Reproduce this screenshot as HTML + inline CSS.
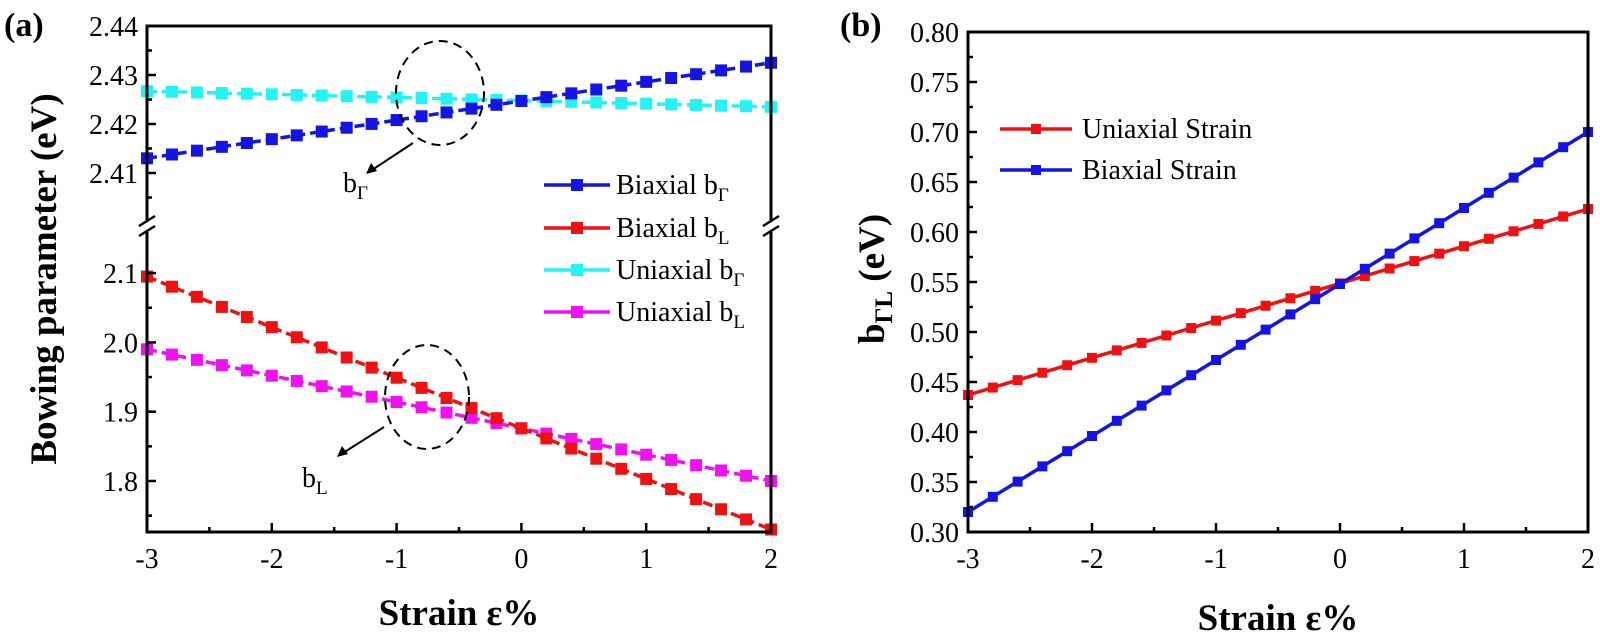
<!DOCTYPE html>
<html><head><meta charset="utf-8"><style>
html,body{margin:0;padding:0;background:#fff;}
svg{display:block;}
svg text{font-family:"Liberation Serif","DejaVu Serif",serif;}
</style></head><body>
<svg id="s" width="1600" height="639" viewBox="0 0 1600 639" xmlns="http://www.w3.org/2000/svg" font-family="'Liberation Serif', 'DejaVu Serif', serif">
<rect width="1600" height="639" fill="#fff"/>
<text x="4" y="36" font-size="34" font-weight="bold">(a)</text>
<text x="840" y="36" font-size="34" font-weight="bold">(b)</text>
<text transform="translate(56,279) rotate(-90)" text-anchor="middle" font-size="37" font-weight="bold">Bowing parameter (eV)</text>
<text x="459" y="625" text-anchor="middle" font-size="37" font-weight="bold">Strain ε%</text>
<text transform="translate(884,279) rotate(-90)" text-anchor="middle" font-size="37" font-weight="bold">b<tspan font-size="25" dy="8">ΓL</tspan><tspan dy="-8"> (eV)</tspan></text>
<text x="1278" y="630" text-anchor="middle" font-size="37" font-weight="bold">Strain ε%</text>
<g id="g"></g>
<ellipse cx="440" cy="93" rx="44" ry="52" fill="none" stroke="#000" stroke-width="2" stroke-dasharray="9,6"/>
<line x1="413" y1="143" x2="372" y2="170" stroke="#000" stroke-width="2"/>
<polygon points="366,174 371,163 377,171" fill="#000"/>
<text x="343" y="192" font-size="28">b<tspan font-size="19" dy="7">Γ</tspan></text>
<ellipse cx="427" cy="397" rx="42" ry="52" fill="none" stroke="#000" stroke-width="2" stroke-dasharray="9,6"/>
<line x1="384" y1="427" x2="343" y2="453" stroke="#000" stroke-width="2"/>
<polygon points="337,457 342,446 348,454" fill="#000"/>
<text x="302" y="487" font-size="28">b<tspan font-size="19" dy="7">L</tspan></text>
</svg>
<script>
var NS="http://www.w3.org/2000/svg",g=document.getElementById("g");
var FF="'Liberation Serif', 'DejaVu Serif', serif";
function el(t,a,txt){var e=document.createElementNS(NS,t);for(var k in a)e.setAttribute(k,a[k]);if(t==="text")e.setAttribute("font-family",FF);if(txt!==undefined)e.textContent=txt;g.appendChild(e);return e;}
function series(pts,col,dash,ms){var d=pts.map(function(p,i){return (i?"L":"M")+p[0].toFixed(1)+","+p[1].toFixed(1)}).join("");
 var a={d:d,fill:"none",stroke:col,"stroke-width":3.5};if(dash)a["stroke-dasharray"]="10,5";el("path",a);
 pts.forEach(function(p){el("rect",{x:p[0]-ms/2,y:p[1]-ms/2,width:ms,height:ms,fill:col});});}
var L=147,R=771,T=26,B=532,BR=227;
function Xa(x){return L+(x+3)*124.8;}
function Yu(v){return 26+(2.44-v)*4900;}
function Yl(v){return 481-(v-1.8)*693;}
var xs=[];for(var i=0;i<=25;i++)xs.push(-3+i*0.2);
function lin(a,b){return function(x){return a+(b-a)*(x+3)/5;};}
var f1=lin(2.413,2.4325),f2=lin(2.4267,2.4235),f3=lin(2.095,1.73),f4=lin(1.99,1.80);
series(xs.map(function(x){return [Xa(x),Yu(f2(x))]}),"#22f4f4",true,12);
series(xs.map(function(x){return [Xa(x),Yu(f1(x))]}),"#1414e6",true,12);
series(xs.map(function(x){return [Xa(x),Yl(f4(x))]}),"#f010f0",true,12);
series(xs.map(function(x){return [Xa(x),Yl(f3(x))]}),"#ee1111",true,12);
el("rect",{x:L,y:T,width:R-L,height:B-T,fill:"none",stroke:"#000","stroke-width":3});
[L,R].forEach(function(x){el("rect",{x:x-6,y:BR-5,width:12,height:10,fill:"#fff"});
 el("line",{x1:x-8,y1:BR-1,x2:x+8,y2:BR-11,stroke:"#000","stroke-width":2.5});
 el("line",{x1:x-8,y1:BR+9,x2:x+8,y2:BR-1,stroke:"#000","stroke-width":2.5});});
for(var x=-3;x<=2;x++){el("line",{x1:Xa(x),y1:B,x2:Xa(x),y2:B-9,stroke:"#000","stroke-width":2.5});
 el("text",{x:Xa(x),y:568,"text-anchor":"middle","font-size":28},String(x));
 if(x<2)el("line",{x1:Xa(x+0.5),y1:B,x2:Xa(x+0.5),y2:B-5,stroke:"#000","stroke-width":2.5});}
["2.44","2.43","2.42","2.41"].forEach(function(s){var y=Yu(+s);
 el("line",{x1:L,y1:y,x2:L+9,y2:y,stroke:"#000","stroke-width":2.5});
 el("text",{x:L-9,y:y+10,"text-anchor":"end","font-size":28},s);});
[2.435,2.425,2.415,2.405].forEach(function(v){var y=Yu(v);el("line",{x1:L,y1:y,x2:L+5,y2:y,stroke:"#000","stroke-width":2.5});});
["2.1","2.0","1.9","1.8"].forEach(function(s){var y=Yl(+s);
 el("line",{x1:L,y1:y,x2:L+9,y2:y,stroke:"#000","stroke-width":2.5});
 el("text",{x:L-9,y:y+10,"text-anchor":"end","font-size":28},s);});
[2.05,1.95,1.85,1.75].forEach(function(v){var y=Yl(v);el("line",{x1:L,y1:y,x2:L+5,y2:y,stroke:"#000","stroke-width":2.5});});
[["#1414e6","Γ",185],["#ee1111","L",228],["#22f4f4","Γ",270],["#f010f0","L",312]].forEach(function(r,i){
 el("line",{x1:544,y1:r[2],x2:610,y2:r[2],stroke:r[0],"stroke-width":3.5});
 el("rect",{x:571,y:r[2]-6,width:12,height:12,fill:r[0]});
 var t=el("text",{x:616,y:r[2]+9,"font-size":28},(i<2?"Biaxial b":"Uniaxial b"));
 var sp=document.createElementNS(NS,"tspan");sp.setAttribute("font-size","19");sp.setAttribute("dy","7");sp.textContent=r[1];t.appendChild(sp);});
var L2=968,R2=1588,T2=32,B2=532;
function Xb(x){return L2+(x+3)*124;}
function Yb(v){return B2-(v-0.30)*1000;}
var u=lin(0.437,0.623),b=lin(0.32,0.70);
series(xs.map(function(x){return [Xb(x),Yb(u(x))]}),"#ee1111",false,10);
series(xs.map(function(x){return [Xb(x),Yb(b(x))]}),"#1414e6",false,10);
el("rect",{x:L2,y:T2,width:R2-L2,height:B2-T2,fill:"none",stroke:"#000","stroke-width":3});
for(var x=-3;x<=2;x++){el("line",{x1:Xb(x),y1:B2,x2:Xb(x),y2:B2-9,stroke:"#000","stroke-width":2.5});
 el("text",{x:Xb(x),y:568,"text-anchor":"middle","font-size":28},String(x));
 if(x<2)el("line",{x1:Xb(x+0.5),y1:B2,x2:Xb(x+0.5),y2:B2-5,stroke:"#000","stroke-width":2.5});}
for(var k=0;k<=10;k++){var v=0.30+k*0.05,y=Yb(v);
 el("line",{x1:L2,y1:y,x2:L2+9,y2:y,stroke:"#000","stroke-width":2.5});
 el("text",{x:L2-9,y:y+10,"text-anchor":"end","font-size":28},v.toFixed(2));
 if(k<10)el("line",{x1:L2,y1:y-25,x2:L2+5,y2:y-25,stroke:"#000","stroke-width":2.5});}
[["#ee1111","Uniaxial Strain",129],["#1414e6","Biaxial Strain",170]].forEach(function(r){
 el("line",{x1:1000,y1:r[2],x2:1072,y2:r[2],stroke:r[0],"stroke-width":3.5});
 el("rect",{x:1031,y:r[2]-5,width:10,height:10,fill:r[0]});
 el("text",{x:1082,y:r[2]+9,"font-size":28},r[1]);});
</script>
</body></html>
